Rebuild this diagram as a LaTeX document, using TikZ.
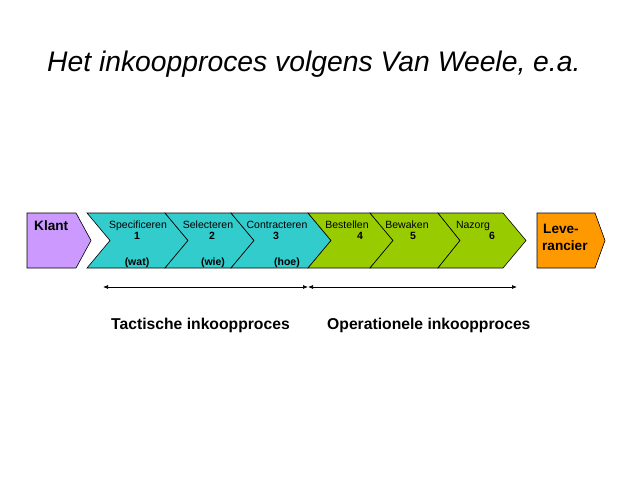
\documentclass[tikz,border=0pt]{standalone}
\usepackage{fontspec}
\setmainfont{Liberation Sans}
\usetikzlibrary{arrows.meta}
\definecolor{klantc}{HTML}{CC99FF}
\definecolor{tealc}{HTML}{33CCCC}
\definecolor{greenc}{HTML}{99CC00}
\definecolor{levc}{HTML}{FF9900}
\tikzset{
  shapeline/.style={draw=black, line width=0.6pt, line join=miter},
  steplabel/.style={anchor=base, inner sep=0pt, font=\fontsize{10.5}{12}\selectfont},
  stepnum/.style={anchor=base, inner sep=0pt, font=\fontsize{10.5}{12}\selectfont\bfseries},
  endlabel/.style={anchor=base west, inner sep=0pt, font=\fontsize{13.6}{16}\selectfont\bfseries},
  phaselabel/.style={anchor=base west, inner sep=0pt, font=\fontsize{15.7}{18}\selectfont\bfseries},
  spanarrow/.style={{Latex[length=5pt,width=4pt]}-{Latex[length=5pt,width=4pt]}, line width=0.7pt}
}
\begin{document}
\begin{tikzpicture}[x=1pt,y=-1pt]
\useasboundingbox (0,0) rectangle (638,479);
% title
\node[anchor=base west, inner sep=0pt, font=\fontsize{28.3}{32}\selectfont\itshape] (title) at (47,71) {Het inkoopproces volgens Van Weele, e.a.};
% Klant
\path[shapeline, fill=klantc] (27,213) -- (76,213) -- (91,240.5) -- (76,268) -- (27,268) -- cycle;
\node[endlabel] (klant) at (34,230) {Klant};
% chevrons
\path[shapeline, fill=tealc] (87,213) -- (165,213) -- (188,240.5) -- (165,268) -- (87,268) -- (110,240.5) -- cycle;
\path[shapeline, fill=tealc] (165,213) -- (231,213) -- (254,240.5) -- (231,268) -- (165,268) -- (188,240.5) -- cycle;
\path[shapeline, fill=tealc] (231,213) -- (308,213) -- (331,240.5) -- (308,268) -- (231,268) -- (254,240.5) -- cycle;
\path[shapeline, fill=greenc] (308,213) -- (370,213) -- (393,240.5) -- (370,268) -- (308,268) -- (331,240.5) -- cycle;
\path[shapeline, fill=greenc] (370,213) -- (438,213) -- (460,240.5) -- (438,268) -- (370,268) -- (393,240.5) -- cycle;
\path[shapeline, fill=greenc] (438,213) -- (503,213) -- (526,240.5) -- (503,268) -- (438,268) -- (460,240.5) -- cycle;
% Leverancier
\path[shapeline, fill=levc] (537,213) -- (595,213) -- (605,240.5) -- (595,268) -- (537,268) -- cycle;
\node[endlabel] (lev1) at (543,233) {Leve-};
\node[endlabel] (lev2) at (542,250) {rancier};
% step texts
\node[steplabel] (s1) at (138,228) {Specificeren};
\node[stepnum] (n1) at (137,239) {1};
\node[stepnum] (w1) at (137,265) {(wat)};
\node[steplabel] (s2) at (208,228) {Selecteren};
\node[stepnum] (n2) at (212,239) {2};
\node[stepnum] (w2) at (213,265) {(wie)};
\node[steplabel] (s3) at (277,228) {Contracteren};
\node[stepnum] (n3) at (276,239) {3};
\node[stepnum] (w3) at (287,265) {(hoe)};
\node[steplabel] (s4) at (347,228) {Bestellen};
\node[stepnum] (n4) at (360,239) {4};
\node[steplabel] (s5) at (407,228) {Bewaken};
\node[stepnum] (n5) at (413,239) {5};
\node[steplabel] (s6) at (473,228) {Nazorg};
\node[stepnum] (n6) at (492,239) {6};
% span arrows
\coordinate (aL) at (103,287);
\coordinate (aM) at (308,287);
\coordinate (aR) at (517,287);
\draw[spanarrow] (aL) -- (aM);
\draw[spanarrow] (aM) -- (aR);
\node[phaselabel] (tact) at (111,329) {Tactische inkoopproces};
\node[phaselabel] (oper) at (327,329) {Operationele inkoopproces};
\end{tikzpicture}
\end{document}
